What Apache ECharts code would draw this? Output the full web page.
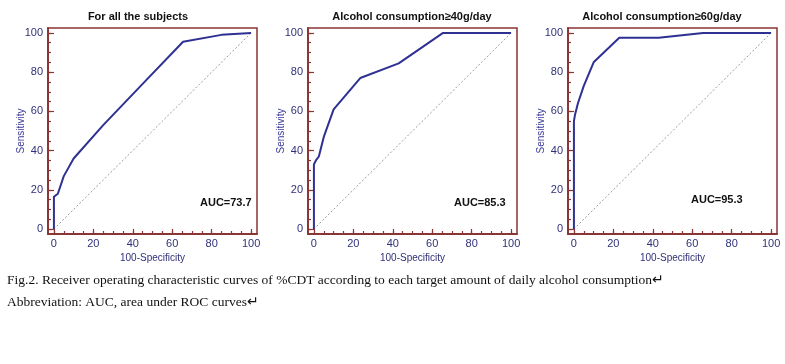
<!DOCTYPE html>
<html>
<head>
    <meta charset="utf-8">
    <title>ROC curves</title>
    <style>
        html, body { margin: 0; padding: 0; background: #fff; }
        #charts { width: 785px; height: 364px; }
    </style>
</head>
<body>
<div id="charts"></div>
<script src="https://cdn.jsdelivr.net/npm/echarts@6/dist/echarts.min.js"></script>
<script>
    // 数据
    var panelTitles = ['For all the subjects', 'Alcohol consumption≥40g/day', 'Alcohol consumption≥60g/day'];
    var aucTexts = ['AUC=73.7', 'AUC=85.3', 'AUC=95.3'];

    var fprAll = [0, 0, 2, 5, 10, 25, 45, 65.5, 85, 100];
    var tprAll = [0, 16.5, 18, 27, 36, 53, 74, 95.5, 99, 100];

    var fpr40 = [0, 0, 1, 2.5, 5, 10, 23.5, 43, 65.5, 100];
    var tpr40 = [0, 33, 35, 37, 47, 61, 77, 84.5, 100, 100];

    var fpr60 = [0, 0, 0.5, 2, 5, 10, 23, 43, 65.5, 100];
    var tpr60 = [0, 55, 58, 64, 73, 85, 97.5, 97.5, 100, 100];

    var diagX = [0, 100];
    var diagY = [0, 100];

    var majorTicks = [0, 20, 40, 60, 80, 100];
    var minorTicks = [0, 5, 10, 15, 20, 25, 30, 35, 40, 45, 50, 55, 60, 65, 70, 75, 80, 85, 90, 95, 100];

    var captionLine1 = 'Fig.2. Receiver operating characteristic curves of %CDT according to each target amount of daily alcohol consumption';
    var captionLine2 = 'Abbreviation: AUC, area under ROC curves';

    var curves = [[fprAll, tprAll], [fpr40, tpr40], [fpr60, tpr60]];

    var frameColor = '#8a3434';
    var curveColor = '#2e3192';
    var labelColor = '#30307a';

    function pairs(xs, ys) {
        var out = [];
        for (var i = 0; i < xs.length; i++) {
            out.push([xs[i], ys[i]]);
        }
        return out;
    }

    var myChart = echarts.init(document.getElementById('charts'));

    var grids = [], xAxes = [], yAxes = [], series = [], titles = [];
    var lefts = [48, 308, 568];
    var titleCenters = [138, 412, 662];

    for (var k = 0; k < 3; k++) {
        grids.push({
            left: lefts[k], top: 28, width: 209, height: 206,
            show: true, borderColor: frameColor, borderWidth: 1.5, backgroundColor: 'transparent'
        });

        // 主刻度 + 标签
        xAxes.push({
            type: 'value', gridIndex: k, position: 'bottom', min: -3, max: 103,
            name: '100-Specificity', nameLocation: 'middle', nameGap: 19, nameMoveOverlap: false,
            nameTextStyle: { color: labelColor, fontSize: 10, fontFamily: 'Liberation Sans' },
            splitLine: { show: false },
            axisLine: { onZero: false, lineStyle: { color: frameColor, width: 1.5 } },
            axisTick: { inside: true, length: 5, customValues: majorTicks, lineStyle: { color: frameColor, width: 1.2 } },
            axisLabel: { margin: 4, customValues: majorTicks, color: labelColor, fontSize: 11, fontFamily: 'Liberation Sans' }
        });
        // 次刻度
        xAxes.push({
            type: 'value', gridIndex: k, position: 'bottom', min: -3, max: 103,
            splitLine: { show: false },
            axisLine: { onZero: false, lineStyle: { color: frameColor, width: 1.5 } },
            axisTick: { inside: true, length: 3, customValues: minorTicks, lineStyle: { color: frameColor, width: 1.2 } },
            axisLabel: { show: false }
        });

        yAxes.push({
            type: 'value', gridIndex: k, position: 'left', min: -2.5, max: 102.5,
            name: 'Sensitivity', nameLocation: 'middle', nameGap: 22, nameRotate: 90, nameMoveOverlap: false,
            nameTextStyle: { color: '#3a3a9a', fontSize: 10, fontFamily: 'Liberation Sans' },
            splitLine: { show: false },
            axisLine: { onZero: false, lineStyle: { color: frameColor, width: 1.5 } },
            axisTick: { inside: true, length: 6, customValues: majorTicks, lineStyle: { color: frameColor, width: 1.2 } },
            axisLabel: { margin: 5, customValues: majorTicks, color: labelColor, fontSize: 11, fontFamily: 'Liberation Sans' }
        });
        yAxes.push({
            type: 'value', gridIndex: k, position: 'left', min: -2.5, max: 102.5,
            splitLine: { show: false },
            axisLine: { onZero: false, lineStyle: { color: frameColor, width: 1.5 } },
            axisTick: { inside: true, length: 3, customValues: minorTicks, lineStyle: { color: frameColor, width: 1.2 } },
            axisLabel: { show: false }
        });

        // 对角参考线
        series.push({
            type: 'line', xAxisIndex: 2 * k, yAxisIndex: 2 * k, symbol: 'none', silent: true,
            lineStyle: { color: '#9a9a9a', width: 1, type: [2, 2] },
            data: pairs(diagX, diagY)
        });
        // ROC 曲线
        series.push({
            type: 'line', xAxisIndex: 2 * k, yAxisIndex: 2 * k, symbol: 'none',
            lineStyle: { color: curveColor, width: 2 },
            data: pairs(curves[k][0], curves[k][1])
        });

        titles.push({
            text: panelTitles[k], left: titleCenters[k], top: 11, textAlign: 'center', padding: 0,
            textStyle: { fontSize: 11, fontWeight: 'bold', color: '#111', fontFamily: 'Liberation Sans' }
        });
    }

    // AUC 文字
    var aucStyle = { fontSize: 11, fontWeight: 'bold', color: '#111', fontFamily: 'Liberation Sans' };
    titles.push({ text: aucTexts[0], left: 200, top: 197, padding: 0, textStyle: aucStyle });
    titles.push({ text: aucTexts[1], left: 454, top: 197, padding: 0, textStyle: aucStyle });
    titles.push({ text: aucTexts[2], left: 691, top: 194, padding: 0, textStyle: aucStyle });

    var option = {
        animation: false,
        title: titles,
        grid: grids,
        xAxis: xAxes,
        yAxis: yAxes,
        series: series,
        graphic: [
            {
                type: 'text', left: 7, top: 273,
                style: { text: captionLine1 + '↵', font: '13.5px "Liberation Serif"', fill: '#111' }
            },
            {
                type: 'text', left: 7, top: 295,
                style: { text: captionLine2 + '↵', font: '13.5px "Liberation Serif"', fill: '#111' }
            }
        ]
    };
    myChart.setOption(option);
</script>
</body>
</html>
